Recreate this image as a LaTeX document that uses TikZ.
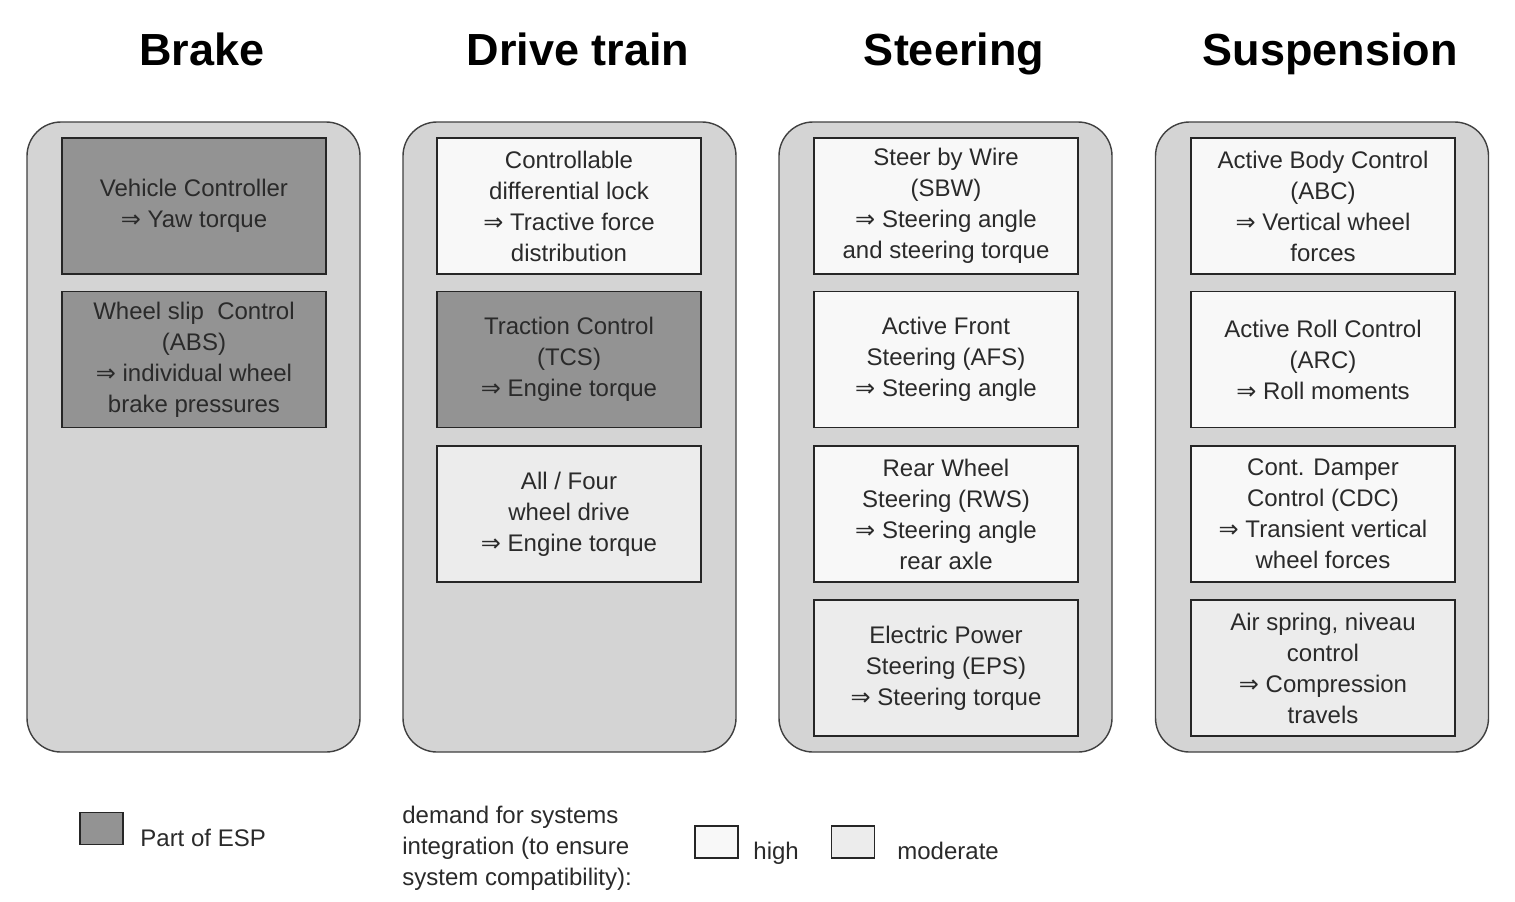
\documentclass[tikz,border=0pt]{standalone}
\usepackage{fontspec}
\setmainfont{Liberation Sans}
\newfontfamily\arrfont{DejaVu Sans}
\newcommand{\impl}{{\arrfont ⇒}}
\definecolor{panelfill}{HTML}{D4D4D4}
\definecolor{espfill}{HTML}{939393}
\definecolor{highfill}{HTML}{F8F8F8}
\definecolor{modfill}{HTML}{ECECEC}
\definecolor{txt}{HTML}{2A2A2A}
\begin{document}
\begin{tikzpicture}[x=0.5pt,y=-0.5pt,
  panel/.style={draw=black!75,line width=0.7pt,fill=panelfill,rounded corners=17pt,
    minimum width=166.5pt,minimum height=315pt,inner sep=0pt},
  sysbox/.style={draw=black!85,line width=0.8pt,minimum width=132pt,minimum height=68pt,
    inner sep=0pt,align=center,text=txt,font=\fontsize{12}{15.5}\selectfont},
  esp/.style={sysbox,fill=espfill},
  high/.style={sysbox,fill=highfill},
  moderate/.style={sysbox,fill=modfill},
  title/.style={font=\fontsize{22.5}{26}\selectfont\bfseries,text=black,anchor=base,inner sep=0pt},
  legbox/.style={draw=black!85,line width=0.8pt,minimum width=21.5pt,minimum height=16pt,inner sep=0pt},
  legtxt/.style={font=\fontsize{12}{15.5}\selectfont,text=txt,inner sep=0pt,anchor=base west}
]
\useasboundingbox[fill=white] (0,0) rectangle (1515,901);
% titles
\node[title] (tBrake) at (202,65) {Brake};
\node[title] (tDrive) at (578,65) {Drive train};
\node[title] (tSteer) at (954,65) {Steering};
\node[title] (tSusp) at (1330,65) {Suspension};
% panels
\node[panel] (pBrake) at (193.5,437) {};
\node[panel] (pDrive) at (569.5,437) {};
\node[panel] (pSteer) at (945.5,437) {};
\node[panel] (pSusp) at (1322,437) {};
% Brake
\node[esp] (b1) at (194,206) {Vehicle Controller\\\impl\ Yaw torque};
\node[esp] (b2) at (194,359.5) {Wheel slip\ \ Control\\(ABS)\\\impl\ individual wheel\\brake pressures};
% Drive train
\node[high] (d1) at (569,206) {Controllable\\differential lock\\\impl\ Tractive force\\distribution};
\node[esp] (d2) at (569,359.5) {Traction Control\\(TCS)\\\impl\ Engine torque};
\node[moderate] (d3) at (569,514) {All / Four\\wheel drive\\\impl\ Engine torque};
% Steering
\node[high] (s1) at (946,206) {Steer by Wire\\(SBW)\\\impl\ Steering angle\\and steering torque};
\node[high] (s2) at (946,359.5) {Active Front\\Steering (AFS)\\\impl\ Steering angle};
\node[high] (s3) at (946,514) {Rear Wheel\\Steering (RWS)\\\impl\ Steering angle\\rear axle};
\node[moderate] (s4) at (946,668) {Electric Power\\Steering (EPS)\\\impl\ Steering torque};
% Suspension
\node[high] (u1) at (1323,206) {Active Body Control\\(ABC)\\\impl\ Vertical wheel\\forces};
\node[high] (u2) at (1323,359.5) {Active Roll Control\\(ARC)\\\impl\ Roll moments};
\node[high] (u3) at (1323,514) {Cont. Damper\\Control (CDC)\\\impl\ Transient vertical\\wheel forces};
\node[moderate] (u4) at (1323,668) {Air spring, niveau\\control\\\impl\ Compression\\travels};
% legend
\node[legbox,fill=espfill] (lEsp) at (101.5,828.5) {};
\node[legtxt] (lEspT) at (140,846) {Part of ESP};
\node[legtxt,align=left,anchor=west] (lDem) at (402,848) {demand for systems\\integration (to ensure\\system compatibility):};
\node[legbox,fill=highfill] (lHigh) at (716.5,842) {};
\node[legtxt] (lHighT) at (753,859) {high};
\node[legbox,fill=modfill] (lMod) at (853,842) {};
\node[legtxt] (lModT) at (897,859) {moderate};
\end{tikzpicture}
\end{document}
